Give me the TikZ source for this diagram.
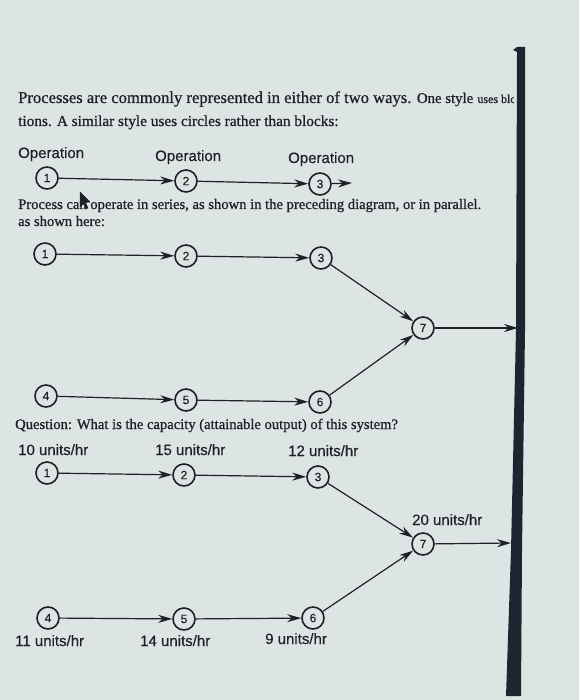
\documentclass[tikz,border=0pt]{standalone}
\usepackage{fontspec}
\setmainfont{Liberation Serif}[FakeBold=0.8]
\newfontfamily\bodyfont{Liberation Serif}[FakeBold=0.8]
\newfontfamily\labelfont{Liberation Sans}[FakeBold=0.3]
\usetikzlibrary{arrows.meta}
\definecolor{bg}{RGB}{220,228,228}
\definecolor{ink}{RGB}{30,34,38}
\definecolor{barc}{RGB}{28,38,46}
\begin{document}
\begin{tikzpicture}[x=1pt,y=-1pt,
  proc/.style={circle,draw=ink,line width=1.6pt,minimum size=22pt,inner sep=0pt,
    font=\labelfont\fontsize{12}{12}\selectfont,text=ink},
  flow/.style={draw=ink,line width=1.2pt,-{Stealth[length=14pt,width=8pt]}},
  lbl/.style={font=\labelfont\fontsize{15}{15}\selectfont,text=ink,anchor=base west,inner sep=0pt},
  body/.style={font=\bodyfont\fontsize{14.6}{16}\selectfont,text=ink,anchor=base west,inner sep=0pt}]
\fill[bg] (0,0) rectangle (579,700);
\useasboundingbox (0,0) rectangle (579,700);

% top text
\begin{scope}
\clip (0,0) rectangle (514,700);
\node[body,font=\bodyfont\fontsize{16.6}{18}\selectfont] (t1) at (18,103) {Processes are commonly represented in either of two ways. {\fontsize{14.8}{16}\selectfont One style} {\fontsize{12}{12}\selectfont uses blocks}};
\end{scope}
\node[body,font=\bodyfont\fontsize{15.3}{16}\selectfont] (t2) at (18,126) {tions. A similar style uses circles rather than blocks:};

% diagram A
\node[lbl] (oa) at (18,158) {Operation};
\node[lbl] (ob) at (155,161) {Operation};
\node[lbl] (oc) at (288,163) {Operation};
\node[proc] (a1) at (47,178) {1};
\node[proc] (a2) at (186,181) {2};
\node[proc] (a3) at (320,184) {3};
\coordinate (aout) at (352,183);
\draw[flow] (a1) -- (a2);
\draw[flow] (a2) -- (a3);
\draw[flow] (a3) -- (aout);

\node[body] (t3) at (18,209) {Process can operate in series, as shown in the preceding diagram, or in parallel.};
\node[body] (t4) at (18,226) {as shown here:};
% mouse cursor
\filldraw[fill=ink,draw=ink,line width=0.4pt] (80,192) -- (80,207) -- (83.5,203.5) -- (86,209) -- (88,208) -- (85.5,202.5) -- (90,202) -- cycle;

% diagram B
\node[proc] (b1) at (45,254) {1};
\node[proc] (b2) at (186,256) {2};
\node[proc] (b3) at (321,258) {3};
\node[proc] (b7) at (423,328) {7};
\node[proc] (b4) at (46,396) {4};
\node[proc] (b5) at (186,400) {5};
\node[proc] (b6) at (320,402) {6};
\coordinate (bout) at (518,328);
\draw[flow] (b1) -- (b2);
\draw[flow] (b2) -- (b3);
\draw[flow] (b3) -- (b7);
\draw[flow] (b4) -- (b5);
\draw[flow] (b5) -- (b6);
\draw[flow] (b6) -- (b7);
\draw[flow] (b7) -- (bout);

\node[body] (t5) at (15,429) {Question: What is the capacity (attainable output) of this system?};

% diagram C
\node[lbl] (u1) at (18,455) {10 units/hr};
\node[lbl] (u2) at (155,455) {15 units/hr};
\node[lbl] (u3) at (288,456) {12 units/hr};
\node[lbl] (u7) at (412,525) {20 units/hr};
\node[lbl] (u4) at (15,646) {11 units/hr};
\node[lbl] (u5) at (140,646) {14 units/hr};
\node[lbl] (u6) at (265,644) {9 units/hr};
\node[proc] (d1) at (47,473) {1};
\node[proc] (d2) at (184,475) {2};
\node[proc] (d3) at (318,477) {3};
\node[proc] (d7) at (423,544) {7};
\node[proc] (d4) at (48,618) {4};
\node[proc] (d5) at (184,619) {5};
\node[proc] (d6) at (313,618) {6};
\coordinate (dout) at (511,543);
\draw[flow] (d1) -- (d2);
\draw[flow] (d2) -- (d3);
\draw[flow] (d3) -- (d7);
\draw[flow] (d4) -- (d5);
\draw[flow] (d5) -- (d6);
\draw[flow] (d6) -- (d7);
\draw[flow] (d7) -- (dout);

% page edge bar
\fill[barc] (513,50) -- (517,47) -- (525,47) -- (525,330) -- (522,550) -- (521,696) -- (506,696) -- (511,550) -- (516,330) -- (517,52) -- cycle;
\end{tikzpicture}
\end{document}
